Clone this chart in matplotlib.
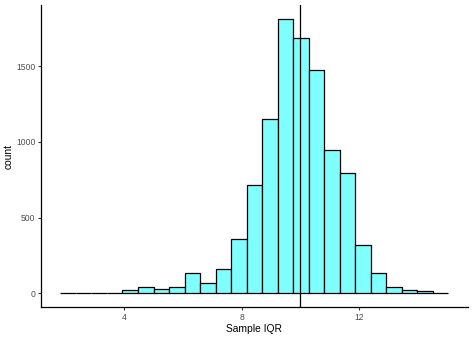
import matplotlib
matplotlib.use("Agg")
import matplotlib.pyplot as plt
import numpy as np

#############################################
# Histogram of sample IQR with reference line
#############################################

# bin layout (25 bins)
bin_start = 1.83
bin_width = 0.5284

# counts per bin, left to right
counts = [1, 0, 0, 4, 20, 40, 29, 40, 132, 66, 160, 356, 714, 1151,
          1812, 1683, 1472, 945, 797, 319, 134, 42, 24, 13, 4]

true_iqr = 10
x_ticks = [4, 8, 12]
y_ticks = [0, 500, 1000, 1500]

plt.rcParams['font.family'] = ['Liberation Sans', 'DejaVu Sans']

fig = plt.figure(figsize=(4.74, 3.38), dpi=100)
ax = fig.add_axes([0.0865, 0.0917, 0.9005, 0.8933])

lefts = bin_start + bin_width * np.arange(len(counts))
ax.bar(lefts, counts, width=bin_width, align='edge',
       color='#80FFFF', edgecolor='black', linewidth=0.9, zorder=2)

# reference line
ax.axvline(true_iqr, color='black', linewidth=0.9, zorder=3)

# ggplot-style 5% expansion
x_lo = bin_start
x_hi = bin_start + bin_width * len(counts)
pad_x = 0.05 * (x_hi - x_lo)
ax.set_xlim(x_lo - pad_x, x_hi + pad_x)
y_hi = max(counts)
ax.set_ylim(-0.05 * y_hi, 1.05 * y_hi)

ax.set_xticks(x_ticks)
ax.set_yticks(y_ticks)
ax.tick_params(axis='both', length=2.5, width=0.8, color='#333333',
               labelcolor='#4D4D4D', labelsize=6.2, pad=1.5)

for side in ['top', 'right']:
    ax.spines[side].set_visible(False)
for side in ['left', 'bottom']:
    ax.spines[side].set_linewidth(0.9)

ax.set_xlabel('Sample IQR', fontsize=7.4, labelpad=2)
ax.set_ylabel('count', fontsize=7.4, labelpad=1.5)

fig.savefig('out.png', dpi=100)
